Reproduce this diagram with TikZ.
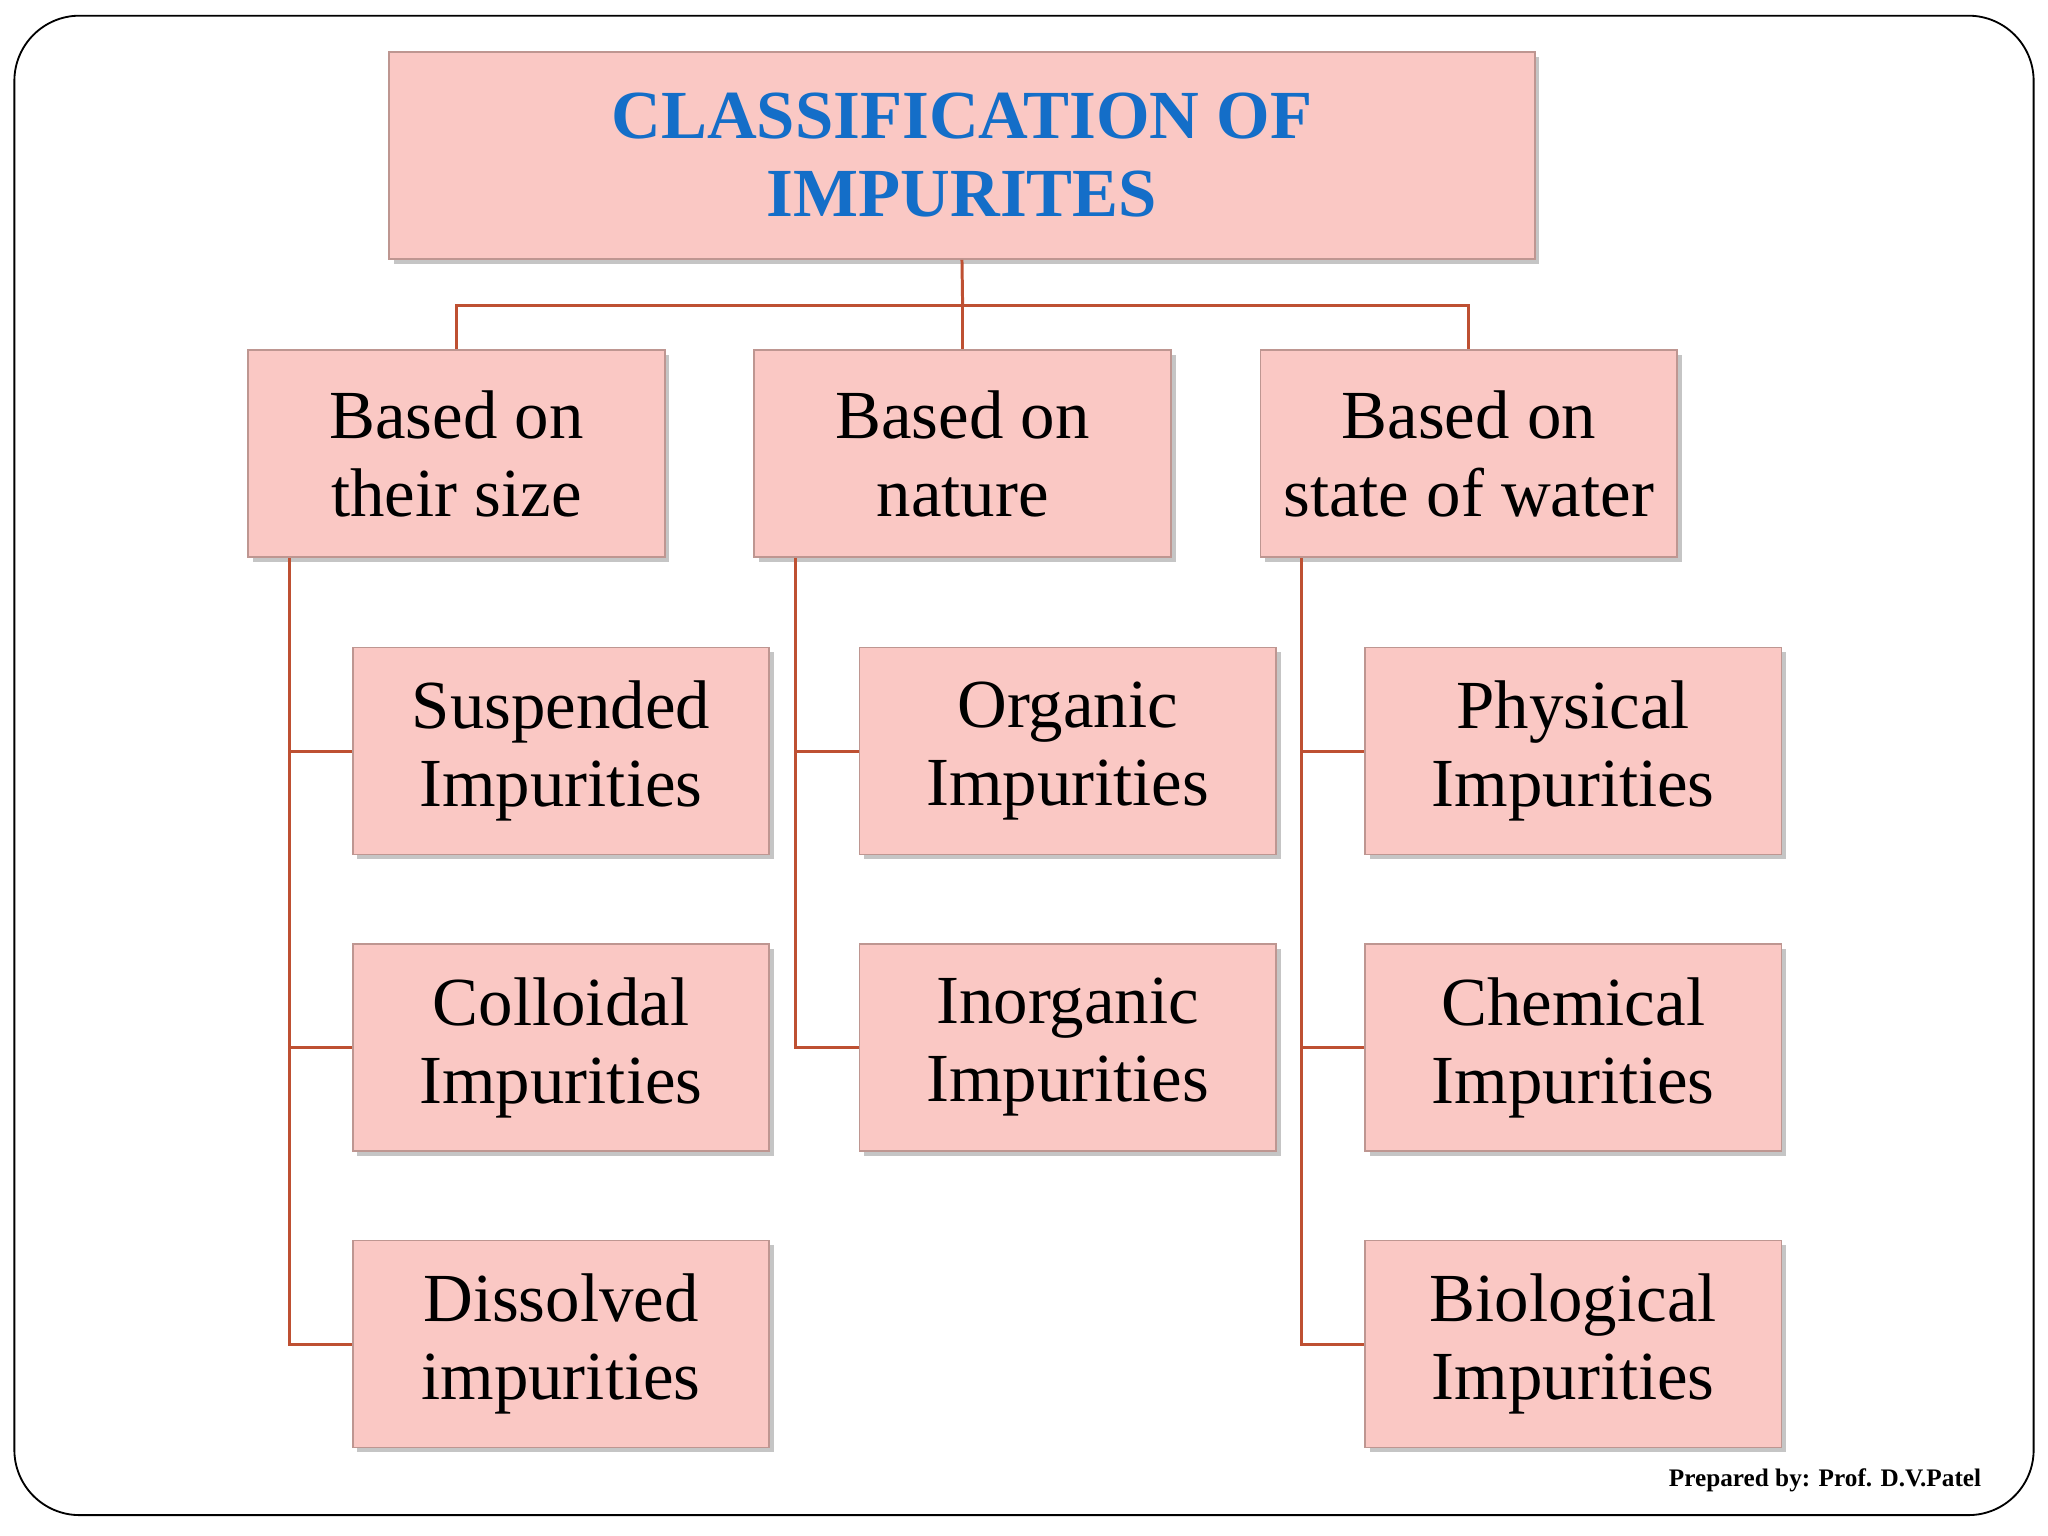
\documentclass[tikz,border=0pt]{standalone}
\usepackage{fontspec}
\setmainfont{Liberation Serif}
\usetikzlibrary{shadows}
\definecolor{boxfill}{RGB}{250,200,196}
\definecolor{boxline}{RGB}{190,150,145}
\definecolor{conn}{RGB}{190,80,50}
\definecolor{titleblue}{RGB}{20,110,200}
\tikzset{
 pbox/.style={draw=boxline, fill=boxfill, line width=0.8pt, minimum width=6.38cm, minimum height=3.17cm, align=center, inner sep=0pt, font=\fontsize{30}{34}\selectfont, drop shadow={shadow xshift=2pt, shadow yshift=-2pt, fill=black!45}},
 link/.style={draw=conn, line width=1.3pt}
}
\begin{document}
\begin{tikzpicture}[x=0.02cm,y=-0.02cm]
\useasboundingbox (0,0) rectangle (1568,1176);
\draw[line width=0.8pt, rounded corners=1cm] (11,12) rectangle (1557,1160);
\node[pbox, minimum width=17.54cm, font=\fontsize{30}{34}\selectfont\bfseries\color{titleblue}] (t) at (736.5,119) {CLASSIFICATION OF\\IMPURITES};
\node[pbox] (a) at (349.5,347.5) {Based on\\their size};
\node[pbox] (b) at (737,347.5) {Based on\\nature};
\node[pbox] (c) at (1124.5,347.5) {Based on\\state of water};
\node[pbox] (a1) at (429.5,575) {Suspended\\Impurities};
\node[pbox] (a2) at (429.5,802) {Colloidal\\Impurities};
\node[pbox] (a3) at (429.5,1029) {Dissolved\\impurities};
\node[pbox] (b1) at (817.5,575) {Organic\\Impurities};
\node[pbox] (b2) at (817.5,802) {Inorganic\\Impurities};
\node[pbox] (c1) at (1204.5,575) {Physical\\Impurities};
\node[pbox] (c2) at (1204.5,802) {Chemical\\Impurities};
\node[pbox] (c3) at (1204.5,1029) {Biological\\Impurities};
\coordinate (j) at (737,234);
\draw[link] (t.south) -- (j);
\draw[link] (a.north) |- (j) -| (c.north);
\draw[link] (j) -- (b.north);
\draw[link] (a.south west) ++(32,0) coordinate (ta) |- (a3.west);
\draw[link] (ta) |- (a1.west); \draw[link] (ta) |- (a2.west);
\draw[link] (b.south west) ++(32,0) coordinate (tb) |- (b2.west);
\draw[link] (tb) |- (b1.west);
\draw[link] (c.south west) ++(32,0) coordinate (tc) |- (c3.west);
\draw[link] (tc) |- (c1.west); \draw[link] (tc) |- (c2.west);
\node[anchor=east, font=\fontsize{11}{13}\selectfont\bfseries] (f) at (1523,1133) {Prepared by: Prof. D.V.Patel};
\end{tikzpicture}
\end{document}
